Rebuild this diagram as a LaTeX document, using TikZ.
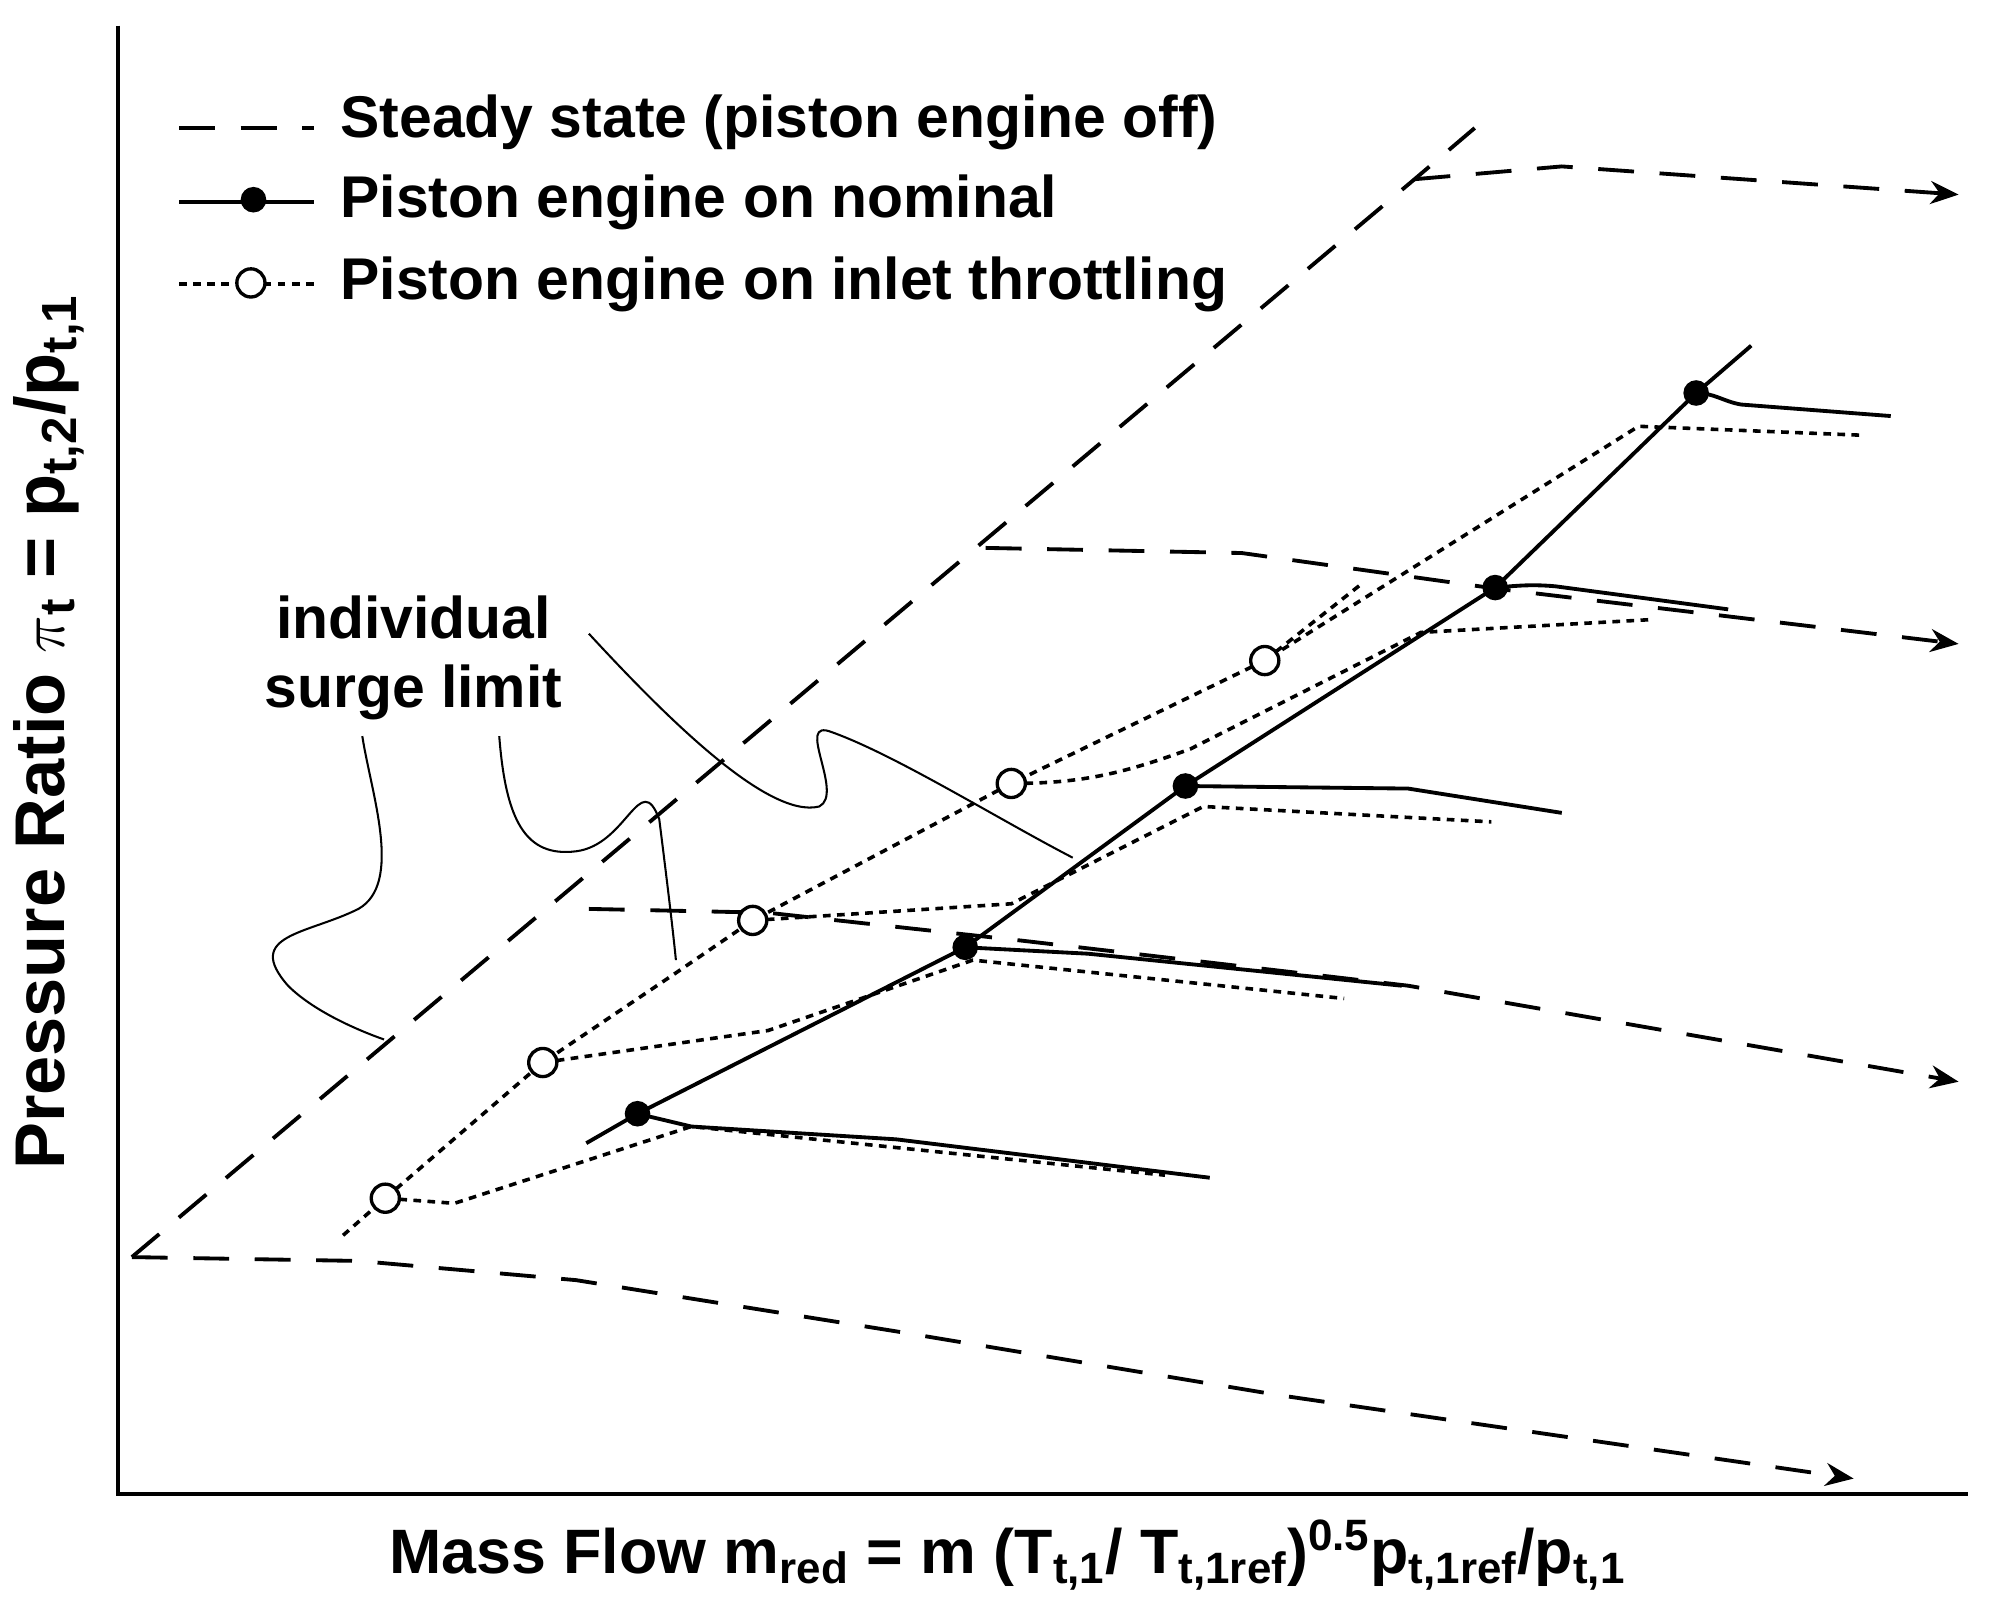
\documentclass[tikz,border=0pt]{standalone}
\usepackage{fontspec}
\setmainfont{Liberation Sans}
\usetikzlibrary{arrows.meta}
\begin{document}
\begin{tikzpicture}[x=0.5pt,y=-0.5pt,
  ds/.style={line width=1.5pt,dash pattern=on 14pt off 10pt},
  dt/.style={line width=1.4pt,dash pattern=on 3pt off 2.5pt},
  sl/.style={line width=1.5pt},
  an/.style={line width=0.8pt},
  arr/.style={-{Stealth[length=11pt,width=9pt]}},
  fd/.style={circle,fill=black,inner sep=0pt,minimum size=10pt},
  od/.style={circle,draw,line width=1.3pt,fill=white,inner sep=0pt,minimum size=11pt},
  tx/.style={font=\fontsize{23}{27}\selectfont\bfseries}]
\useasboundingbox (0,0) rectangle (1560,1259);
% axes
\draw[line width=1.4pt] (92,20) -- (92,1167) -- (1537,1167);
\node[font=\fontsize{27.5}{32}\selectfont\bfseries,rotate=90] (yl) at (38,572) {Pressure Ratio {\fontsize{30}{32}\selectfont$\pi$}\textsubscript{t} = p\textsubscript{t,2}/p\textsubscript{t,1}};
\node[font=\fontsize{24.5}{30}\selectfont\bfseries] (xl) at (787,1215) {Mass Flow m\textsubscript{red} = m (T\textsubscript{t,1}/ T\textsubscript{t,1ref})\textsuperscript{0.5}p\textsubscript{t,1ref}/p\textsubscript{t,1}};
% legend
\draw[ds] (140,100) -- (245,100);
\node[tx,anchor=west] (l1) at (259,96) {Steady state (piston engine off)};
\draw[sl] (140,158) -- (245,158);
\node[fd] (ld) at (198,156) {};
\node[tx,anchor=west] (l2) at (259,158) {Piston engine on nominal};
\draw[dt] (140,222) -- (245,222);
\node[od] (lo) at (196,221) {};
\node[tx,anchor=west] (l3) at (259,222) {Piston engine on inlet throttling};
% steady state
\draw[ds] (103,982) -- (1105,140) -- (1152,100);
\draw[ds,arr] (1105,140) -- (1220,130) -- (1530,152);
\draw[ds,arr] (770,428) -- (970,432) -- (1170,460) -- (1530,503);
\draw[ds,arr] (460,710) -- (600,713) -- (800,735) -- (1100,770) -- (1530,845);
\draw[ds,arr] (103,982) -- (280,985) -- (450,1000) -- (700,1040) -- (1000,1090) -- (1448,1155);
% nominal
\coordinate (n1) at (498,870); \coordinate (n2) at (754,740); \coordinate (n3) at (926,614);
\coordinate (n4) at (1168,459); \coordinate (n5) at (1325,307);
\draw[sl] (458,893) -- (n1) -- (n2) -- (n3) -- (n4) -- (n5) -- (1368,270);
\draw[sl] (n1) -- (540,880) -- (700,890) -- (945,920);
\draw[sl] (n2) -- (850,745) -- (1095,770);
\draw[sl] (n3) -- (1100,616) -- (1220,635);
\draw[sl] (n4) to[out=5,in=175] (1215,458) -- (1350,476);
\draw[sl] (n5) to[out=0,in=170] (1360,316) -- (1477,325);
% throttled
\coordinate (t1) at (301,936); \coordinate (t2) at (424,830); \coordinate (t3) at (588,719);
\coordinate (t4) at (790,612); \coordinate (t5) at (988,516);
\draw[dt] (268,965) -- (t1) -- (t2) -- (528,760) -- (t3) -- (t4) -- (t5) -- (1280,333) -- (1455,340);
\draw[dt] (t1) -- (355,940) -- (540,880) -- (910,918);
\draw[dt] (t2) -- (600,805) -- (760,750) -- (1050,780);
\draw[dt] (t3) -- (790,706) -- (940,630) -- (1165,642);
\draw[dt] (t4) to[out=0,in=200] (930,585) -- (1110,494) -- (1290,484);
\draw[dt] (t5) -- (1065,455);
\foreach \p in {n1,n2,n3,n4,n5} \node[fd] at (\p) {};
\foreach \p in {t1,t2,t3,t4,t5} \node[od] at (\p) {};
% annotation
\node[tx,align=center] (ann) at (323,514) {individual\\surge limit};
\draw[an] (283,575) .. controls (290,620) and (315,690) .. (280,710) .. controls (240,730) and (190,730) .. (225,770) .. controls (245,790) and (280,805) .. (300,812);
\draw[an] (390,575) .. controls (395,640) and (410,670) .. (450,665) .. controls (490,660) and (500,600) .. (515,640) .. controls (520,680) and (525,720) .. (528,750);
\draw[an] (460,495) .. controls (520,560) and (600,640) .. (640,630) .. controls (660,620) and (620,560) .. (650,572) .. controls (700,590) and (780,640) .. (838,670);
\end{tikzpicture}
\end{document}
